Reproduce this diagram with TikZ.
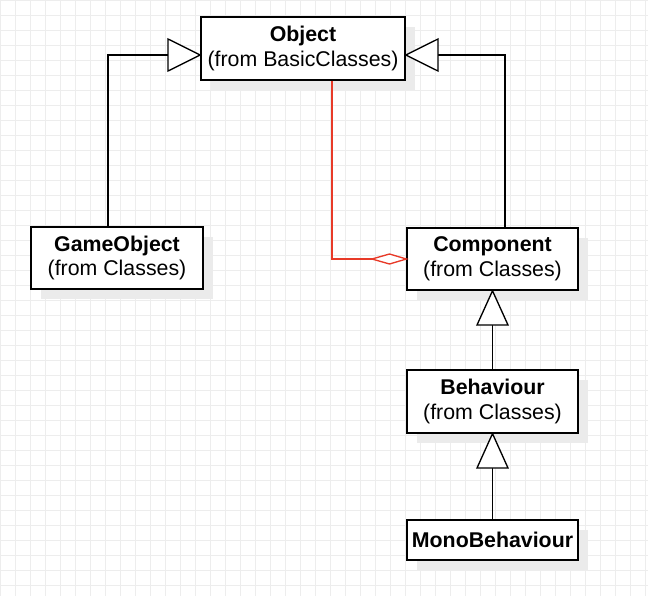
\documentclass[tikz,border=0pt]{standalone}
\usepackage{fontspec}
\setmainfont{Liberation Sans}
\definecolor{agg}{RGB}{232,58,40}
\begin{document}
\begin{tikzpicture}[x=0.75pt,y=-0.75pt,
 box/.style={draw=black,line width=1.2pt,fill=white,align=center,font=\fontsize{16}{18.5}\selectfont,inner sep=0pt},
 shadow/.style={fill=black!8,draw=none},
 ln/.style={line width=1pt},
 inh/.style={ln,fill=white}]
\useasboundingbox (0,0) rectangle (648,596);
\fill[white] (0,0) rectangle (648,596);
\foreach \i in {0,15,...,645} \draw[black!7,line width=0.5pt] (\i,0) -- (\i,596);
\foreach \i in {0,15,...,595} \draw[black!7,line width=0.5pt] (0,\i) -- (648,\i);
% shadows
\fill[shadow] (211,27) rectangle (415,90);
\fill[shadow] (41,237) rectangle (213,299);
\fill[shadow] (417,238) rectangle (588,300);
\fill[shadow] (417,380) rectangle (588,443);
\fill[shadow] (417,530) rectangle (588,570);
% boxes
\node[box,minimum width=153pt,minimum height=47pt] (obj) at (303,48.5) {\textbf{Object}\\(from BasicClasses)};
\node[box,minimum width=129pt,minimum height=46.5pt] (go) at (117,258) {\textbf{GameObject}\\(from Classes)};
\node[box,minimum width=128pt,minimum height=46.5pt] (comp) at (492.5,259) {\textbf{Component}\\(from Classes)};
\node[box,minimum width=128pt,minimum height=47pt] (beh) at (492.5,401.5) {\textbf{Behaviour}\\(from Classes)};
\node[box,minimum width=128pt,minimum height=30pt] (mono) at (492.5,540) {\textbf{MonoBehaviour}};
\coordinate (t1) at (obj.west |- 0,55);
\coordinate (t2) at (obj.east |- 0,55);
% GameObject -> Object
\draw[ln] (go.north -| 108,0) |- (168,55);
\draw[inh] (t1) -- (168,71) -- (168,39) -- cycle;
% Component -> Object
\draw[ln] (comp.north -| 505,0) |- (438,55);
\draw[inh] (t2) -- (438,71) -- (438,39) -- cycle;
% aggregation
\draw[agg,line width=1pt] (obj.south -| 332,0) |- (372,259);
\draw[agg,line width=1pt,fill=white] (comp.west) -- (389.5,264) -- (372,259) -- (389.5,254) -- cycle;
% Behaviour -> Component
\draw[ln] (beh.north) -- (492.5,325);
\draw[inh] (comp.south) -- (508,325) -- (477,325) -- cycle;
% Mono -> Behaviour
\draw[ln] (mono.north) -- (492.5,468);
\draw[inh] (beh.south) -- (508,468) -- (477,468) -- cycle;
\end{tikzpicture}
\end{document}
